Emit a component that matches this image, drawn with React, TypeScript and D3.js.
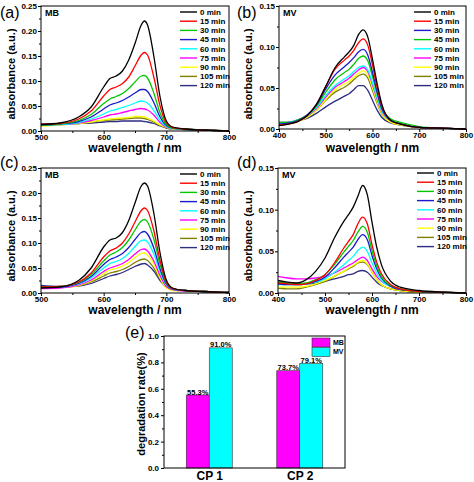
import React, { useEffect, useRef } from "react";
import * as d3 from "d3";

const FONT = "'Liberation Sans', Arial, sans-serif";

const TIMES = ["0 min", "15 min", "30 min", "45 min", "60 min", "75 min", "90 min", "105 min", "120 min"];

// Origin default palette, two orderings (panel b swaps green and blue)
const COLORS_GREEN_FIRST = ["#000000", "#ff0000", "#00c800", "#1a1acc", "#00ffff", "#ff00ff", "#ffff00", "#808000", "#2e2e80"];
const COLORS_BLUE_FIRST = ["#000000", "#ff0000", "#1a1acc", "#00c800", "#00ffff", "#ff00ff", "#ffff00", "#808000", "#2e2e80"];

const MB_WAVELENGTH = [500, 530, 560, 580, 600, 610, 620, 630, 640, 650, 660, 665, 670, 680, 690, 700, 710, 730, 760, 800];
const MV_WAVELENGTH = [400, 420, 440, 460, 480, 500, 520, 540, 550, 560, 570, 580, 590, 600, 610, 620, 640, 660, 700, 750, 800];

// (a) MB, CP 1
const MB_CP1 = [
  [0.013, 0.016, 0.028, 0.048, 0.088, 0.105, 0.110, 0.120, 0.142, 0.175, 0.212, 0.220, 0.212, 0.150, 0.068, 0.020, 0.008, 0.004, 0.002, 0.000],
  [0.013, 0.015, 0.024, 0.040, 0.070, 0.083, 0.088, 0.095, 0.108, 0.130, 0.152, 0.157, 0.152, 0.108, 0.050, 0.016, 0.007, 0.004, 0.002, 0.000],
  [0.012, 0.014, 0.021, 0.033, 0.055, 0.064, 0.069, 0.075, 0.085, 0.098, 0.110, 0.111, 0.106, 0.076, 0.036, 0.013, 0.006, 0.004, 0.002, 0.000],
  [0.012, 0.014, 0.019, 0.028, 0.044, 0.052, 0.056, 0.061, 0.068, 0.076, 0.083, 0.083, 0.079, 0.057, 0.028, 0.011, 0.006, 0.004, 0.002, 0.000],
  [0.012, 0.013, 0.017, 0.024, 0.034, 0.040, 0.043, 0.047, 0.051, 0.056, 0.060, 0.059, 0.056, 0.041, 0.021, 0.009, 0.005, 0.003, 0.002, 0.000],
  [0.013, 0.013, 0.016, 0.021, 0.028, 0.032, 0.034, 0.037, 0.040, 0.043, 0.045, 0.044, 0.042, 0.032, 0.017, 0.008, 0.005, 0.003, 0.002, 0.000],
  [0.010, 0.012, 0.015, 0.018, 0.022, 0.024, 0.025, 0.026, 0.027, 0.029, 0.029, 0.028, 0.026, 0.020, 0.012, 0.007, 0.004, 0.003, 0.002, 0.000],
  [0.012, 0.013, 0.015, 0.018, 0.021, 0.022, 0.023, 0.024, 0.025, 0.026, 0.026, 0.025, 0.023, 0.018, 0.011, 0.007, 0.004, 0.003, 0.002, 0.000],
  [0.014, 0.014, 0.015, 0.016, 0.018, 0.019, 0.019, 0.020, 0.020, 0.020, 0.020, 0.019, 0.018, 0.015, 0.010, 0.006, 0.004, 0.003, 0.002, 0.000],
];

// (b) MV, CP 1
const MV_CP1 = [
  [0.004, 0.006, 0.009, 0.016, 0.030, 0.052, 0.075, 0.088, 0.094, 0.102, 0.115, 0.121, 0.112, 0.085, 0.055, 0.030, 0.010, 0.006, 0.002, 0.001, 0.000],
  [0.005, 0.006, 0.009, 0.016, 0.030, 0.052, 0.073, 0.084, 0.089, 0.096, 0.105, 0.110, 0.102, 0.078, 0.050, 0.028, 0.010, 0.006, 0.002, 0.001, 0.000],
  [0.006, 0.007, 0.010, 0.017, 0.029, 0.049, 0.066, 0.076, 0.081, 0.087, 0.094, 0.097, 0.090, 0.069, 0.045, 0.025, 0.010, 0.006, 0.002, 0.001, 0.000],
  [0.008, 0.008, 0.011, 0.017, 0.028, 0.045, 0.060, 0.069, 0.073, 0.079, 0.086, 0.089, 0.083, 0.064, 0.043, 0.025, 0.012, 0.008, 0.003, 0.001, 0.000],
  [0.007, 0.008, 0.011, 0.016, 0.026, 0.041, 0.053, 0.061, 0.065, 0.070, 0.075, 0.077, 0.072, 0.056, 0.038, 0.022, 0.010, 0.007, 0.002, 0.001, 0.000],
  [0.007, 0.008, 0.011, 0.016, 0.025, 0.039, 0.051, 0.058, 0.062, 0.067, 0.072, 0.075, 0.070, 0.054, 0.036, 0.021, 0.010, 0.007, 0.002, 0.001, 0.000],
  [0.004, 0.006, 0.009, 0.014, 0.023, 0.036, 0.048, 0.055, 0.058, 0.063, 0.068, 0.071, 0.066, 0.050, 0.033, 0.019, 0.008, 0.005, 0.002, 0.001, 0.000],
  [0.007, 0.008, 0.010, 0.015, 0.023, 0.035, 0.045, 0.051, 0.055, 0.060, 0.065, 0.067, 0.062, 0.047, 0.031, 0.018, 0.008, 0.005, 0.002, 0.001, 0.000],
  [0.008, 0.008, 0.010, 0.013, 0.019, 0.027, 0.034, 0.040, 0.043, 0.048, 0.053, 0.053, 0.047, 0.035, 0.023, 0.014, 0.007, 0.005, 0.002, 0.001, 0.000],
];

// (c) MB, CP 2
const MB_CP2 = [
  [0.010, 0.012, 0.025, 0.050, 0.092, 0.106, 0.110, 0.121, 0.145, 0.180, 0.214, 0.220, 0.214, 0.160, 0.080, 0.026, 0.010, 0.005, 0.003, 0.001],
  [0.012, 0.013, 0.022, 0.040, 0.072, 0.084, 0.090, 0.100, 0.118, 0.142, 0.165, 0.170, 0.165, 0.125, 0.065, 0.022, 0.009, 0.005, 0.003, 0.001],
  [0.012, 0.013, 0.021, 0.037, 0.064, 0.076, 0.082, 0.091, 0.106, 0.126, 0.144, 0.147, 0.142, 0.108, 0.057, 0.020, 0.009, 0.005, 0.003, 0.001],
  [0.012, 0.012, 0.019, 0.033, 0.057, 0.067, 0.072, 0.079, 0.091, 0.107, 0.121, 0.123, 0.118, 0.090, 0.048, 0.018, 0.008, 0.005, 0.003, 0.001],
  [0.012, 0.012, 0.018, 0.030, 0.050, 0.059, 0.063, 0.069, 0.079, 0.093, 0.105, 0.106, 0.102, 0.078, 0.042, 0.016, 0.008, 0.005, 0.003, 0.001],
  [0.009, 0.010, 0.016, 0.026, 0.043, 0.050, 0.054, 0.059, 0.067, 0.078, 0.087, 0.088, 0.084, 0.064, 0.035, 0.013, 0.007, 0.004, 0.003, 0.001],
  [0.010, 0.011, 0.015, 0.024, 0.039, 0.046, 0.049, 0.054, 0.061, 0.071, 0.079, 0.080, 0.076, 0.058, 0.030, 0.010, 0.005, 0.004, 0.003, 0.001],
  [0.012, 0.012, 0.015, 0.022, 0.034, 0.040, 0.043, 0.047, 0.053, 0.061, 0.067, 0.068, 0.065, 0.050, 0.028, 0.012, 0.007, 0.005, 0.003, 0.001],
  [0.015, 0.013, 0.014, 0.019, 0.029, 0.034, 0.037, 0.041, 0.047, 0.053, 0.058, 0.059, 0.056, 0.044, 0.025, 0.012, 0.007, 0.005, 0.003, 0.001],
];

// (d) MV, CP 2
const MV_CP2 = [
  [0.015, 0.013, 0.012, 0.016, 0.026, 0.042, 0.066, 0.086, 0.094, 0.103, 0.116, 0.129, 0.118, 0.085, 0.055, 0.034, 0.014, 0.007, 0.003, 0.001, 0.000],
  [0.012, 0.011, 0.010, 0.011, 0.015, 0.022, 0.036, 0.054, 0.062, 0.070, 0.083, 0.091, 0.083, 0.058, 0.037, 0.023, 0.010, 0.005, 0.002, 0.001, 0.000],
  [0.013, 0.012, 0.011, 0.012, 0.016, 0.022, 0.034, 0.049, 0.056, 0.063, 0.073, 0.080, 0.073, 0.051, 0.033, 0.020, 0.009, 0.005, 0.002, 0.001, 0.000],
  [0.011, 0.010, 0.010, 0.011, 0.014, 0.019, 0.030, 0.043, 0.049, 0.055, 0.064, 0.070, 0.064, 0.045, 0.029, 0.018, 0.008, 0.004, 0.002, 0.001, 0.000],
  [0.010, 0.010, 0.010, 0.011, 0.013, 0.017, 0.025, 0.034, 0.039, 0.044, 0.051, 0.055, 0.050, 0.036, 0.024, 0.015, 0.008, 0.005, 0.002, 0.001, 0.000],
  [0.020, 0.018, 0.017, 0.017, 0.018, 0.020, 0.024, 0.030, 0.033, 0.036, 0.040, 0.043, 0.039, 0.029, 0.020, 0.014, 0.008, 0.005, 0.002, 0.001, 0.000],
  [0.007, 0.007, 0.007, 0.008, 0.011, 0.015, 0.020, 0.026, 0.030, 0.033, 0.037, 0.039, 0.035, 0.025, 0.016, 0.010, 0.005, 0.003, 0.001, 0.001, 0.000],
  [0.006, 0.005, 0.005, 0.007, 0.010, 0.014, 0.020, 0.026, 0.029, 0.032, 0.036, 0.037, 0.034, 0.025, 0.016, 0.010, 0.005, 0.003, 0.001, 0.001, 0.000],
  [0.012, 0.011, 0.011, 0.011, 0.012, 0.014, 0.017, 0.020, 0.022, 0.023, 0.026, 0.027, 0.025, 0.019, 0.013, 0.009, 0.005, 0.003, 0.001, 0.001, 0.000],
];

// (e) degradation rate
const CATALYSTS = ["CP 1", "CP 2"];
const DYES = ["MB", "MV"];
const MB_RATE = [0.553, 0.737];
const MV_RATE = [0.91, 0.791];
const DYE_COLORS = ["#ff00ff", "#00ffff"];

interface Box {
  left: number;
  right: number;
  top: number;
  bottom: number;
}

interface SpectrumConfig {
  box: Box;
  wavelength: number[];
  series: number[][];
  colors: string[];
  xDomain: [number, number];
  xTicks: number[];
  xMinor: number[];
  yMax: number;
  yTicks: number[];
  yMinor: number[];
  dye: string;
  tag: string;
  tagX: number;
  tagY: number;
  yTitleX: number;
  yTitleY: number;
  xTitleY: number;
  legendX: number;
  legendY: number;
}

function styleAxis(axisG: d3.Selection<SVGGElement, unknown, null, undefined>) {
  axisG.select(".domain").remove();
  axisG.selectAll("line").attr("stroke", "#000").attr("stroke-width", 1);
  axisG
    .selectAll("text")
    .attr("fill", "#000")
    .attr("font-family", FONT)
    .attr("font-weight", "bold")
    .attr("font-size", "8px");
}

function drawSpectrum(root: d3.Selection<SVGSVGElement, unknown, null, undefined>, cfg: SpectrumConfig) {
  const { box } = cfg;
  const g = root.append("g");

  const x = d3.scaleLinear().domain(cfg.xDomain).range([box.left, box.right]);
  const y = d3.scaleLinear().domain([0, cfg.yMax]).range([box.bottom, box.top]);

  // Curves (drawn last-first so 0 min stays on top)
  const line = d3
    .line<number>()
    .x((_, i) => x(cfg.wavelength[i]))
    .y((d) => y(d))
    .curve(d3.curveMonotoneX);

  for (let i = cfg.series.length - 1; i >= 0; i--) {
    g.append("path")
      .attr("d", line(cfg.series[i]))
      .attr("fill", "none")
      .attr("stroke", cfg.colors[i])
      .attr("stroke-width", 1.3);
  }

  // Frame
  g.append("rect")
    .attr("x", box.left)
    .attr("y", box.top)
    .attr("width", box.right - box.left)
    .attr("height", box.bottom - box.top)
    .attr("fill", "none")
    .attr("stroke", "#000")
    .attr("stroke-width", 1);

  // Axes
  const xMinor = g
    .append("g")
    .attr("transform", `translate(0,${box.bottom})`)
    .call(d3.axisBottom(x).tickValues(cfg.xMinor).tickSize(2).tickFormat(() => ""));
  styleAxis(xMinor);
  const xAxis = g
    .append("g")
    .attr("transform", `translate(0,${box.bottom})`)
    .call(d3.axisBottom(x).tickValues(cfg.xTicks).tickSize(3).tickPadding(0).tickFormat(d3.format("d")));
  styleAxis(xAxis);

  const yMinor = g
    .append("g")
    .attr("transform", `translate(${box.left},0)`)
    .call(d3.axisLeft(y).tickValues(cfg.yMinor).tickSize(2).tickFormat(() => ""));
  styleAxis(yMinor);
  const yAxis = g
    .append("g")
    .attr("transform", `translate(${box.left},0)`)
    .call(d3.axisLeft(y).tickValues(cfg.yTicks).tickSize(3).tickPadding(1).tickFormat(d3.format(".2f")));
  styleAxis(yAxis);

  // Titles
  g.append("text")
    .attr("transform", `translate(${cfg.yTitleX},${cfg.yTitleY}) rotate(-90)`)
    .attr("text-anchor", "middle")
    .attr("font-family", FONT)
    .attr("font-weight", "bold")
    .attr("font-size", "11px")
    .text("absorbance (a.u.)");

  g.append("text")
    .attr("x", (box.left + box.right) / 2)
    .attr("y", cfg.xTitleY)
    .attr("text-anchor", "middle")
    .attr("font-family", FONT)
    .attr("font-weight", "bold")
    .attr("font-size", "12px")
    .text("wavelength / nm");

  g.append("text")
    .attr("x", cfg.tagX)
    .attr("y", cfg.tagY)
    .attr("font-family", FONT)
    .attr("font-size", "16px")
    .text(cfg.tag);

  g.append("text")
    .attr("x", box.left + 4)
    .attr("y", box.top + 10)
    .attr("font-family", FONT)
    .attr("font-weight", "bold")
    .attr("font-size", "9px")
    .text(cfg.dye);

  // Legend
  TIMES.forEach((label, i) => {
    const ly = cfg.legendY + i * 9.2;
    g.append("line")
      .attr("x1", cfg.legendX)
      .attr("x2", cfg.legendX + 17)
      .attr("y1", ly)
      .attr("y2", ly)
      .attr("stroke", cfg.colors[i])
      .attr("stroke-width", 1.4);
    g.append("text")
      .attr("x", cfg.legendX + 20)
      .attr("y", ly)
      .attr("dy", "0.35em")
      .attr("font-family", FONT)
      .attr("font-weight", "bold")
      .attr("font-size", "8px")
      .text(label);
  });
}

function drawRates(root: d3.Selection<SVGSVGElement, unknown, null, undefined>) {
  const box: Box = { left: 164, right: 345, top: 336, bottom: 468 };
  const g = root.append("g");

  const x = d3.scalePoint<string>().domain(CATALYSTS).range([box.left, box.right]).padding(0.5);
  const sub = d3.scaleBand<string>().domain(DYES).range([-23, 23]);
  const y = d3.scaleLinear().domain([0, 1]).range([box.bottom, box.top]);

  const rates = [MB_RATE, MV_RATE];

  DYES.forEach((dye, di) => {
    CATALYSTS.forEach((cat, ci) => {
      const v = rates[di][ci];
      const bx = (x(cat) ?? 0) + (sub(dye) ?? 0);
      g.append("rect")
        .attr("x", bx)
        .attr("y", y(v))
        .attr("width", sub.bandwidth())
        .attr("height", y(0) - y(v))
        .attr("fill", DYE_COLORS[di])
        .attr("stroke", "#333")
        .attr("stroke-width", 0.6);
      g.append("text")
        .attr("x", bx + sub.bandwidth() / 2)
        .attr("y", y(v) - 0.5)
        .attr("text-anchor", "middle")
        .attr("font-family", FONT)
        .attr("font-weight", "bold")
        .attr("font-size", "7.5px")
        .text(`${(v * 100).toFixed(1)}%`);
    });
  });

  g.append("rect")
    .attr("x", box.left)
    .attr("y", box.top)
    .attr("width", box.right - box.left)
    .attr("height", box.bottom - box.top)
    .attr("fill", "none")
    .attr("stroke", "#000")
    .attr("stroke-width", 1);

  const yMinor = g
    .append("g")
    .attr("transform", `translate(${box.left},0)`)
    .call(d3.axisLeft(y).tickValues([0.1, 0.3, 0.5, 0.7, 0.9]).tickSize(2).tickFormat(() => ""));
  styleAxis(yMinor);
  const yAxis = g
    .append("g")
    .attr("transform", `translate(${box.left},0)`)
    .call(d3.axisLeft(y).tickValues([0, 0.2, 0.4, 0.6, 0.8, 1.0]).tickSize(3).tickPadding(2).tickFormat(d3.format(".1f")));
  styleAxis(yAxis);

  const xAxis = g
    .append("g")
    .attr("transform", `translate(0,${box.bottom})`)
    .call(d3.axisBottom(x).tickSize(0).tickPadding(3));
  styleAxis(xAxis);
  xAxis.selectAll("text").attr("font-size", "12px");

  g.append("text")
    .attr("transform", `translate(145,${(box.top + box.bottom) / 2 + 2}) rotate(-90)`)
    .attr("text-anchor", "middle")
    .attr("font-family", FONT)
    .attr("font-weight", "bold")
    .attr("font-size", "11px")
    .text("degradation rate(%)");

  g.append("text")
    .attr("x", 125)
    .attr("y", 338)
    .attr("font-family", FONT)
    .attr("font-size", "16px")
    .text("(e)");

  // Legend
  DYES.forEach((dye, i) => {
    const ly = 338 + i * 9.5;
    g.append("rect")
      .attr("x", 312)
      .attr("y", ly)
      .attr("width", 18)
      .attr("height", 9)
      .attr("fill", DYE_COLORS[i])
      .attr("stroke", "#333")
      .attr("stroke-width", 0.6);
    g.append("text")
      .attr("x", 333)
      .attr("y", ly + 4.5)
      .attr("dy", "0.35em")
      .attr("font-family", FONT)
      .attr("font-weight", "bold")
      .attr("font-size", "7px")
      .text(dye);
  });
}

export default function App() {
  const svgRef = useRef<SVGSVGElement>(null);

  useEffect(() => {
    if (!svgRef.current) return;
    const svg = d3.select(svgRef.current);
    svg.selectAll("*").remove();

    const mbX = { xDomain: [500, 800] as [number, number], xTicks: [500, 600, 700, 800], xMinor: [550, 650, 750] };
    const mvX = { xDomain: [400, 800] as [number, number], xTicks: [400, 500, 600, 700, 800], xMinor: [450, 550, 650, 750] };
    const mbY = { yMax: 0.25, yTicks: [0, 0.05, 0.1, 0.15, 0.2, 0.25], yMinor: [0.025, 0.075, 0.125, 0.175, 0.225] };
    const mvY = { yMax: 0.15, yTicks: [0, 0.05, 0.1, 0.15], yMinor: [0.025, 0.075, 0.125] };

    drawSpectrum(svg, {
      box: { left: 41, right: 229, top: 6, bottom: 131 },
      wavelength: MB_WAVELENGTH,
      series: MB_CP1,
      colors: COLORS_GREEN_FIRST,
      ...mbX,
      ...mbY,
      dye: "MB",
      tag: "(a)",
      tagX: 0,
      tagY: 18,
      yTitleX: 15,
      yTitleY: 74,
      xTitleY: 152,
      legendX: 180,
      legendY: 12,
    });

    drawSpectrum(svg, {
      box: { left: 279, right: 466, top: 6, bottom: 129 },
      wavelength: MV_WAVELENGTH,
      series: MV_CP1,
      colors: COLORS_BLUE_FIRST,
      ...mvX,
      ...mvY,
      dye: "MV",
      tag: "(b)",
      tagX: 237,
      tagY: 18,
      yTitleX: 252,
      yTitleY: 74,
      xTitleY: 152,
      legendX: 414,
      legendY: 12,
    });

    drawSpectrum(svg, {
      box: { left: 41, right: 229, top: 168, bottom: 293 },
      wavelength: MB_WAVELENGTH,
      series: MB_CP2,
      colors: COLORS_GREEN_FIRST,
      ...mbX,
      ...mbY,
      dye: "MB",
      tag: "(c)",
      tagX: 0,
      tagY: 168,
      yTitleX: 15,
      yTitleY: 236,
      xTitleY: 314,
      legendX: 180,
      legendY: 174,
    });

    drawSpectrum(svg, {
      box: { left: 278, right: 466, top: 168, bottom: 293 },
      wavelength: MV_WAVELENGTH,
      series: MV_CP2,
      colors: COLORS_GREEN_FIRST,
      ...mvX,
      ...mvY,
      dye: "MV",
      tag: "(d)",
      tagX: 237,
      tagY: 168,
      yTitleX: 252,
      yTitleY: 236,
      xTitleY: 314,
      legendX: 417,
      legendY: 173,
    });

    drawRates(svg);
  }, []);

  return (
    <svg
      ref={svgRef}
      width={474}
      height={482}
      style={{ position: "absolute", left: 0, top: 0, background: "#fff" }}
    ></svg>
  );
}
